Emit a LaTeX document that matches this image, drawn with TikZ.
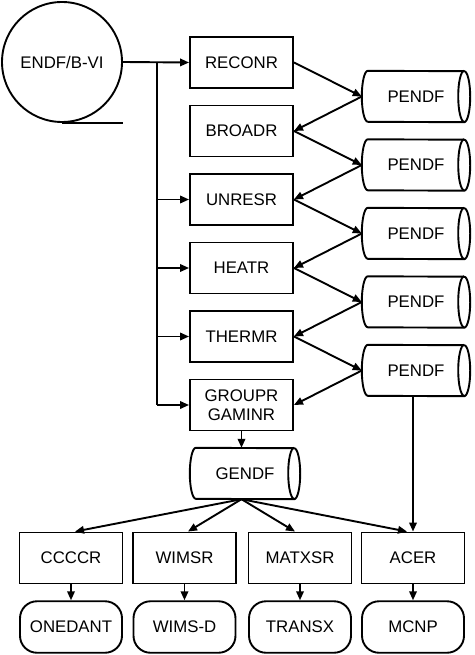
\documentclass[tikz,border=0pt]{standalone}
\usepackage{fontspec}
\setmainfont{Liberation Sans}
\usetikzlibrary{arrows.meta,calc}
\begin{document}
\begin{tikzpicture}[x=1pt,y=-1pt,
  every node/.style={font=\fontsize{16.8}{19.5}\selectfont},
  ln/.style={line width=1.9pt},
  arr/.style={ln,-{Triangle[length=9pt,width=7.5pt]}},
  modbox/.style={draw,ln,rectangle,minimum width=103pt,minimum height=51pt,inner sep=0pt,align=center},
  cylbox/.style={rectangle,minimum width=108pt,minimum height=51pt,inner sep=0pt},
  codebox/.style={draw,ln,rectangle,rounded corners=17pt,minimum width=102pt,minimum height=51.5pt,inner sep=0pt}
]
\useasboundingbox (0,0) rectangle (474,655);

% source
\node[draw,ln,circle,minimum size=120pt,inner sep=0pt] (endf) at (62,62) {ENDF/B-VI};
\draw[ln] (endf.south) -- ++(61,0) coordinate (tail);

% modules
\node[modbox] (reconr) at (241.5,62.5) {RECONR};
\node[modbox] (broadr) at (241.5,131) {BROADR};
\node[modbox] (unresr) at (241.5,199.5) {UNRESR};
\node[modbox] (heatr)  at (241.5,268) {HEATR};
\node[modbox] (thermr) at (241.5,336.5) {THERMR};
\node[modbox] (groupr) at (241.5,405) {GROUPR\\GAMINR};

% PENDF tapes
\node[cylbox] (p1) at (416,96.5) {PENDF};
\node[cylbox] (p2) at (416,165) {PENDF};
\node[cylbox] (p3) at (416,233.5) {PENDF};
\node[cylbox] (p4) at (416,302) {PENDF};
\node[cylbox] (p5) at (416,370.5) {PENDF};
\node[cylbox,minimum width=110pt] (gendf) at (245,473.5) {GENDF};

\foreach \n in {p1,p2,p3,p4,p5,gendf}{
  \draw[ln] ([xshift=6pt]\n.north west) arc[start angle=90,end angle=270,x radius=6pt,y radius=25.5pt]
    -- ([xshift=-6pt]\n.south east) arc[start angle=-90,end angle=90,x radius=6pt,y radius=25.5pt] -- cycle;
  \draw[ln] ([xshift=-6pt]\n.north east) arc[start angle=90,end angle=270,x radius=6pt,y radius=25.5pt];
}

% bottom row
\node[modbox] (ccccr)  at (71,558) {CCCCR};
\node[modbox] (wimsr)  at (184.5,558) {WIMSR};
\node[modbox] (matxsr) at (300,558) {MATXSR};
\node[modbox] (acer)   at (413,558) {ACER};
\node[codebox] (onedant) at (71,627) {ONEDANT};
\node[codebox] (wimsd)   at (184.5,627) {WIMS-D};
\node[codebox] (transx)  at (300,627) {TRANSX};
\node[codebox] (mcnp)    at (413,627) {MCNP};

% trunk from ENDF
\coordinate (trunk) at (157,62);
\draw[arr] (endf.east) -- (reconr.west);
\draw[ln] (trunk) -- (trunk |- groupr.west);
\foreach \m in {unresr,heatr,thermr,groupr}
  \draw[arr] (trunk |- \m.west) -- (\m.west);

% zig-zag
\draw[arr] (reconr.east) -- (p1.west);
\draw[arr] (p1.west) -- (broadr.east);
\draw[arr] (broadr.east) -- (p2.west);
\draw[arr] (p2.west) -- (unresr.east);
\draw[arr] (unresr.east) -- (p3.west);
\draw[arr] (p3.west) -- (heatr.east);
\draw[arr] (heatr.east) -- (p4.west);
\draw[arr] (p4.west) -- (thermr.east);
\draw[arr] (thermr.east) -- (p5.west);
\draw[arr] (p5.west) -- (groupr.east);

% to GENDF and ACER
\draw[arr] (groupr.south) -- (groupr.south |- gendf.north);
\draw[arr] (acer.north |- p5.south) -- (acer.north);
\coordinate (gs) at (groupr.south |- gendf.south);
\draw[arr] (gs) -- ([xshift=4pt]ccccr.north);
\draw[arr] (gs) -- ([xshift=3.5pt]wimsr.north);
\draw[arr] (gs) -- ([xshift=-5pt]matxsr.north);
\draw[arr] (gs) -- ([xshift=-6pt]acer.north);

% to codes
\draw[arr] (ccccr.south) -- (onedant.north);
\draw[arr] (wimsr.south) -- (wimsd.north);
\draw[arr] (matxsr.south) -- (transx.north);
\draw[arr] (acer.south) -- (mcnp.north);
\end{tikzpicture}
\end{document}
